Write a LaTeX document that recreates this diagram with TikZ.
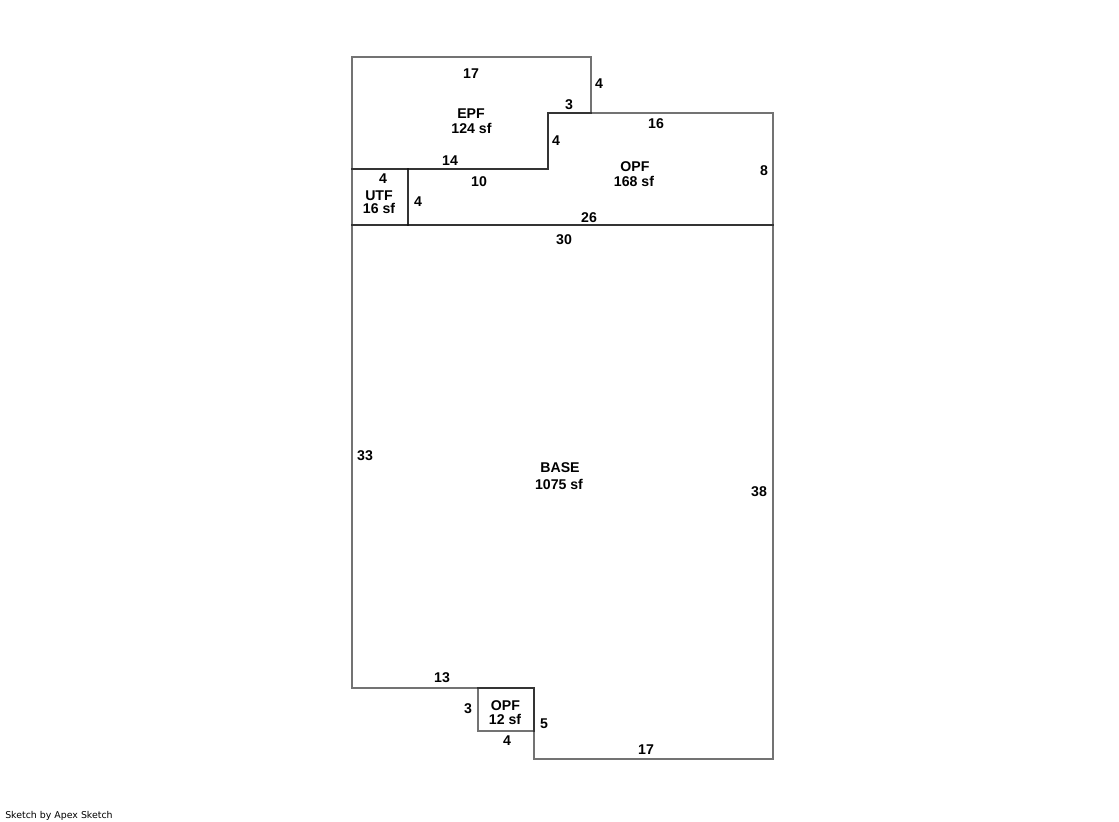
\documentclass[tikz,border=0pt]{standalone}
\usepackage{fontspec}
\setmainfont{Liberation Sans}
\begin{document}
\begin{tikzpicture}[x=0.75pt,y=-0.75pt,
  wall/.style={draw=black,draw opacity=0.55,line width=1.5pt,line join=miter},
  lbl/.style={font=\fontsize{10.6pt}{11pt}\selectfont\bfseries,inner sep=0pt,text=black,yshift=-0.3pt},
  area/.style={lbl,align=center}]
\useasboundingbox (0,0) rectangle (1119,821);
% areas
\draw[wall] (352,57) -- (591,57) -- (591,113) -- (548,113) -- (548,169) -- (352,169) -- cycle;
\draw[wall] (408,169) -- (548,169) -- (548,113) -- (773,113) -- (773,225) -- (408,225) -- cycle;
\draw[wall] (352,169) -- (408,169) -- (408,225) -- (352,225) -- cycle;
\draw[wall] (352,225) -- (773,225) -- (773,759) -- (534,759) -- (534,688) -- (352,688) -- cycle;
\draw[wall] (478,688) -- (534,688) -- (534,731) -- (478,731) -- cycle;
% area names
\node[lbl] (nepf) at (471,113) {EPF};
\node[lbl] (sepf) at (471.5,128) {124 sf};
\node[lbl] (nopf) at (635,166) {OPF};
\node[lbl] (sopf) at (634,181) {168 sf};
\node[lbl] (nutf) at (379,195.5) {UTF};
\node[lbl] (sutf) at (379,208) {16 sf};
\node[lbl] (nbase) at (560,467) {BASE};
\node[lbl] (sbase) at (559,484) {1075 sf};
\node[lbl] (nopfb) at (505.5,705) {OPF};
\node[lbl] (sopfb) at (505,719) {12 sf};
% dimensions
\node[lbl] (d1) at (471,73) {17};
\node[lbl] (d2) at (599,83) {4};
\node[lbl] (d3) at (569,104) {3};
\node[lbl] (d4) at (656,123) {16};
\node[lbl] (d5) at (556,140) {4};
\node[lbl] (d6) at (450,160) {14};
\node[lbl] (d7) at (764,170) {8};
\node[lbl] (d8) at (383,178) {4};
\node[lbl] (d9) at (479,181) {10};
\node[lbl] (d10) at (418,201) {4};
\node[lbl] (d11) at (589,217) {26};
\node[lbl] (d12) at (564,239) {30};
\node[lbl] (d13) at (365,455) {33};
\node[lbl] (d14) at (759,491) {38};
\node[lbl] (d15) at (442,677) {13};
\node[lbl] (d16) at (468,708) {3};
\node[lbl] (d17) at (544,723) {5};
\node[lbl] (d18) at (507,740) {4};
\node[lbl] (d19) at (646,749) {17};
% credit
\node[inner sep=0pt,font=\fontsize{7.05pt}{9pt}\selectfont,anchor=west] (credit) at (5,816) {\fontspec{DejaVu Sans}Sketch by Apex Sketch};
\end{tikzpicture}
\end{document}
